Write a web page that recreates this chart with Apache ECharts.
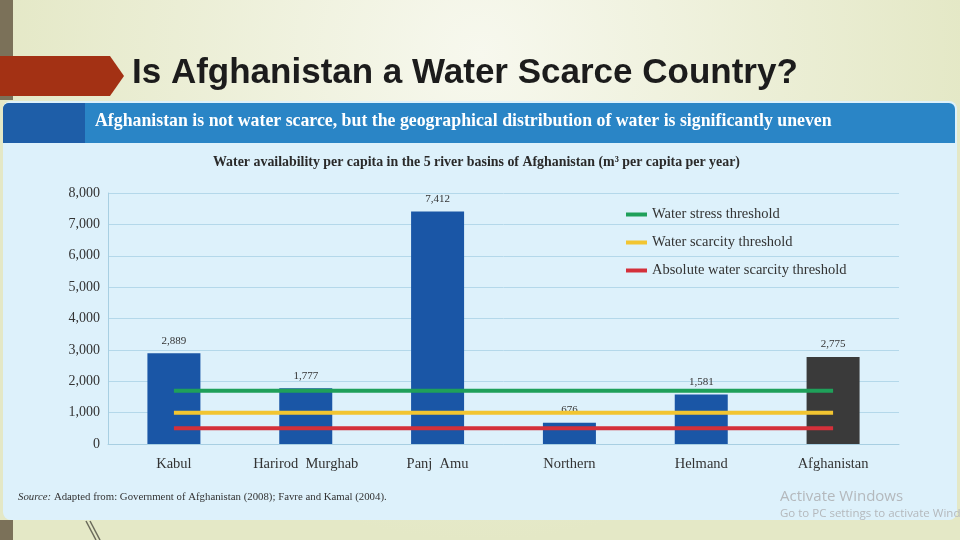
<!DOCTYPE html>
<html>
<head>
<meta charset="utf-8">
<script src="https://cdn.jsdelivr.net/npm/echarts@6/dist/echarts.min.js"></script>
<style>
  html, body {margin: 0; padding: 0;}
  #main {width: 960px; height: 540px;}
</style>
</head>
<body>
<div id="main"></div>
<script>
    // basins and values
    var basins = ['Kabul', 'Harirod  Murghab', 'Panj  Amu', 'Northern', 'Helmand', 'Afghanistan'];
    var perCapita = [2889, 1777, 7412, 676, 1581, 2775];
    var stressLevel = [1700, 1700, 1700, 1700, 1700, 1700];
    var scarcityLevel = [1000, 1000, 1000, 1000, 1000, 1000];
    var absoluteLevel = [500, 500, 500, 500, 500, 500];
    var serif = '"Liberation Serif", "DejaVu Serif", serif';

    function commas(v) {
        return String(v).replace(/\B(?=(\d{3})+(?!\d))/g, ',');
    }

    var charts = echarts.init(document.getElementById('main'));
    charts.setOption({
        backgroundColor: {
            type: 'radial', x: 0.5, y: 0.1, r: 0.9,
            colorStops: [{offset: 0, color: '#f7f8ee'}, {offset: 1, color: '#e4e8c6'}]
        },
        graphic: [
            // slide decoration
            {type: 'rect', shape: {x: 0, y: 0, width: 13, height: 100}, style: {fill: '#7b7159'}, z: 1},
            {type: 'rect', shape: {x: 0, y: 520, width: 13, height: 20}, style: {fill: '#7b7159'}, z: 1},
            {type: 'polygon', shape: {points: [[0, 56], [110, 56], [124, 76], [110, 96], [0, 96]]}, style: {fill: '#a33114'}, z: 2},
            {type: 'text', left: 132, top: 56, style: {text: 'Is Afghanistan a Water Scarce Country?', font: 'bold 35px "Liberation Sans", Arial, sans-serif', fill: '#1c1c1c'}, z: 2},
            {type: 'line', shape: {x1: 86, y1: 521, x2: 96, y2: 540}, style: {stroke: '#6a6a5a', lineWidth: 1.5}, z: 2},
            {type: 'line', shape: {x1: 90, y1: 521, x2: 100, y2: 540}, style: {stroke: '#6a6a5a', lineWidth: 1.5}, z: 2},
            // panel
            {type: 'rect', shape: {x: 3, y: 101, width: 954, height: 419, r: 8}, style: {fill: '#ddf1fb'}, z: 0},
            {type: 'rect', shape: {x: 3, y: 103, width: 952, height: 40, r: [6, 6, 0, 0]}, style: {fill: '#2a85c6'}, z: 1},
            {type: 'rect', shape: {x: 3, y: 103, width: 82, height: 40, r: [6, 0, 0, 0]}, style: {fill: '#1e5ea8'}, z: 2},
            {type: 'text', left: 95, top: 112, style: {text: 'Afghanistan is not water scarce, but the geographical distribution of water is significantly uneven', font: 'bold 17.8px ' + serif, fill: '#ffffff'}, z: 3},
            {type: 'text', left: 213, top: 155, style: {text: 'Water availability per capita in the 5 river basins of Afghanistan (m\u00b3 per capita per year)', font: 'bold 13.9px ' + serif, fill: '#2a2a2a'}, z: 3},
            {type: 'text', left: 18, top: 492, style: {
                text: '{i|Source:} Adapted from: Government of Afghanistan (2008); Favre and Kamal (2004).',
                font: '10.8px ' + serif, fill: '#333',
                rich: {i: {fontStyle: 'italic', fontSize: 10.8, fontFamily: serif}}
            }, z: 3},
            {type: 'text', left: 780, top: 489, style: {text: 'Activate Windows', font: '15px "Open Sans", sans-serif', fill: '#b4b8bc'}, z: 3},
            {type: 'text', left: 780, top: 508, style: {text: 'Go to PC settings to activate Windows.', font: '11.5px "Open Sans", sans-serif', fill: '#b4b8bc'}, z: 3}
        ],
        legend: {
            orient: 'vertical', left: 621, top: 202, itemGap: 13,
            itemWidth: 21, itemHeight: 4, icon: 'rect',
            textStyle: {fontFamily: serif, fontSize: 14.5, color: '#333'},
            data: ['Water stress threshold', 'Water scarcity threshold', 'Absolute water scarcity threshold']
        },
        grid: {left: 108, right: 61, top: 193, bottom: 96},
        xAxis: {
            type: 'category', data: basins,
            axisLine: {lineStyle: {color: '#a8cfe2'}}, axisTick: {show: false},
            axisLabel: {interval: 0, fontFamily: serif, fontSize: 14.5, color: '#333', margin: 13}
        },
        yAxis: {
            type: 'value', min: 0, max: 8000, interval: 1000,
            axisLine: {show: true, lineStyle: {color: '#a8cfe2'}},
            splitLine: {lineStyle: {color: '#b4d8ea'}},
            axisLabel: {fontFamily: serif, fontSize: 14, color: '#333', margin: 8, formatter: commas}
        },
        series: [
            {
                type: 'bar', barWidth: 53, data: perCapita.map(function (v, i) {
                    return {value: v, itemStyle: {color: i === perCapita.length - 1 ? '#3a3a3a' : '#1a56a6'}};
                }),
                label: {show: true, position: 'top', distance: 7, fontFamily: serif, fontSize: 11, color: '#333',
                    formatter: function (p) { return commas(p.value); }}
            },
            {name: 'Water stress threshold', type: 'line', data: stressLevel, symbol: 'none', lineStyle: {width: 4, color: '#1fa05a'}, itemStyle: {color: '#1fa05a'}, z: 5},
            {name: 'Water scarcity threshold', type: 'line', data: scarcityLevel, symbol: 'none', lineStyle: {width: 4, color: '#f2c531'}, itemStyle: {color: '#f2c531'}, z: 5},
            {name: 'Absolute water scarcity threshold', type: 'line', data: absoluteLevel, symbol: 'none', lineStyle: {width: 4, color: '#d4303a'}, itemStyle: {color: '#d4303a'}, z: 5}
        ]
    });
</script>
</body>
</html>
